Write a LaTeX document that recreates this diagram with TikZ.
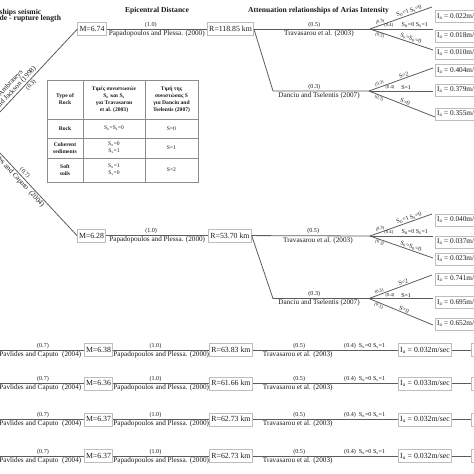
\documentclass[tikz,border=0pt]{standalone}
\usepackage{fontspec}
\setmainfont{Liberation Serif}
\definecolor{lnc}{HTML}{5C5C5C}
\definecolor{bxc}{HTML}{BDBDBD}
\definecolor{txc}{HTML}{1A1A1A}
\definecolor{tbc}{HTML}{8C8C8C}
\newcommand{\myfs}[1]{\fontsize{#1}{#1}\selectfont}
\begin{document}
\begin{tikzpicture}[x=1pt,y=-1pt,
  conn/.style={draw=lnc, line width=0.8pt},
  valbox/.style={draw=bxc, line width=0.6pt, fill=white, text=txc, font=\myfs{7.8}, inner xsep=1.8pt, inner ysep=1.5pt, minimum height=13pt},
  iabox/.style={valbox, anchor=west, font=\myfs{7.3}, minimum height=12pt},
  hdr/.style={font=\bfseries\myfs{7.6}, text=txc, inner sep=0pt},
  wlab/.style={font=\myfs{6.1}, text=txc, inner sep=1.2pt},
  mlab/.style={font=\myfs{7.2}, text=txc, inner sep=1pt},
  blab/.style={font=\myfs{4.6}, text=txc, inner sep=0.8pt},
  slab/.style={font=\myfs{6}, text=txc, inner sep=0.8pt},
  tbl/.style={draw=tbc, line width=0.6pt},
  tcell/.style={font=\fontsize{5.6}{6.9}\selectfont, text=txc, align=center, inner sep=0pt},
  thead/.style={tcell, font=\bfseries\fontsize{5.6}{6.9}\selectfont}
]
\useasboundingbox (0,0) rectangle (474,474);
\clip (0,0) rectangle (474,474);

% headers
\node[hdr, anchor=base west] (h1) at (-0.5,14) {ships seismic};
\node[hdr, anchor=base west] (h2) at (-0.5,20.5) {de - rupture length};
\node[hdr, anchor=base] (h3) at (157,12) {Epicentral Distance};
\node[hdr, anchor=base] (h4) at (318.5,12) {Attenuation relationships of Arias Intensity};

% table
\draw[tbl] (47,80) rectangle (198,182);
\draw[tbl] (83,80) -- (83,182);
\draw[tbl] (145,80) -- (145,182);
\draw[tbl] (47,119) -- (198,119);
\draw[tbl] (47,138) -- (198,138);
\draw[tbl] (47,158) -- (198,158);
\node[thead] (c11) at (65,99.5) {Type of\\Rock};
\node[thead] (c12) at (114,99.5) {Τιμές συνιστωσών\\S\textsubscript{o} και S\textsubscript{s}\\για Travasarou\\et al. (2003)};
\node[thead] (c13) at (171.5,99.5) {Τιμή της\\συνιστώσας S\\για Danciu and\\Tselentis (2007)};
\node[thead] (c21) at (65,128.5) {Rock};
\node[tcell] (c22) at (114,128.5) {S\textsubscript{o}=S\textsubscript{s}=0};
\node[tcell] (c23) at (171.5,128.5) {S=0};
\node[thead] (c31) at (65,148) {Coherent\\sediments};
\node[tcell] (c32) at (114,148) {S\textsubscript{o}=0\\S\textsubscript{s}=1};
\node[tcell] (c33) at (171.5,148) {S=1};
\node[thead] (c41) at (65,170) {Soft\\soils};
\node[tcell] (c42) at (114,170) {S\textsubscript{o}=1\\S\textsubscript{s}=0};
\node[tcell] (c43) at (171.5,170) {S=2};

% ---------- upper tree ----------
\coordinate (ua) at (0,112);
\node[valbox] (m1) at (92,29) {M=6.74};
\node[valbox] (r1) at (230.5,29) {R=118.85 km};
\coordinate (t1) at (370,29);
\coordinate (dk1) at (273,91);
\coordinate (d1) at (369,91);
\draw[conn] (ua) -- (m1.west)
  node[pos=0.25, above, sloped, mlab, align=center] {Ambraseys\\and Jackson (1998)}
  node[pos=0.36, below, sloped, wlab] {(0.3)};
\draw[conn] (m1) -- (r1)
  node[pos=0.44, above, wlab] {(1.0)}
  node[pos=0.5, below, mlab] {Papadopoulos and Plessa. (2000)};
\draw[conn] (r1) -- (t1)
  node[pos=0.52, above, wlab] {(0.5)}
  node[pos=0.56, below, mlab] {Travasarou et al. (2003)};
\draw[conn] (r1.east) -- (dk1) -- (d1)
  node[pos=0.43, above, wlab] {(0.3)}
  node[pos=0.48, below, mlab] {Danciu and Tselentis (2007)};

\coordinate (t1a) at (432,7);
\coordinate (t1b) at (433,29);
\coordinate (t1c) at (433,50);
\draw[conn] (t1) -- (t1a)
  node[pos=0.18, above, sloped, blab] {(0.3)}
  node[pos=0.65, above, sloped, slab] {S\textsubscript{o}=1 S\textsubscript{s}=0};
\draw[conn] (t1) -- (t1b)
  node[pos=0.30, above, blab] {(0.4)}
  node[pos=0.71, above, slab] {S\textsubscript{o}=0 S\textsubscript{s}=1};
\draw[conn] (t1) -- (t1c)
  node[pos=0.17, below, sloped, blab] {(0.3)}
  node[pos=0.63, above, sloped, slab] {S\textsubscript{s}=S\textsubscript{o}=0};

\coordinate (d1a) at (433,68);
\coordinate (d1b) at (433,91);
\coordinate (d1c) at (435,117);
\draw[conn] (d1) -- (d1a)
  node[pos=0.18, above, sloped, blab] {(0.3)}
  node[pos=0.56, above, sloped, slab] {S=2};
\draw[conn] (d1) -- (d1b)
  node[pos=0.33, above, blab] {(0.4)}
  node[pos=0.58, above, slab] {S=1};
\draw[conn] (d1) -- (d1c)
  node[pos=0.17, below, sloped, blab] {(0.3)}
  node[pos=0.53, above, sloped, slab] {S=0};

\node[iabox] (ia1) at (435,16.3) {I\textsubscript{a} = 0.022m/sec};
\node[iabox] (ia2) at (435,36) {I\textsubscript{a} = 0.018m/sec};
\node[iabox] (ia3) at (435,53) {I\textsubscript{a} = 0.010m/sec};
\node[iabox] (ia4) at (435,70.5) {I\textsubscript{a} = 0.404m/sec};
\node[iabox] (ia5) at (435,90) {I\textsubscript{a} = 0.379m/sec};
\node[iabox] (ia6) at (435,114) {I\textsubscript{a} = 0.355m/sec};

% ---------- middle tree ----------
\coordinate (la) at (0,153);
\node[valbox] (m2) at (91.5,235.5) {M=6.28};
\node[valbox] (r2) at (230,235.5) {R=53.70 km};
\coordinate (t2) at (370,236);
\coordinate (dk2) at (273,298.5);
\coordinate (d2) at (369,298.5);
\draw[conn] (la) -- (m2.west)
  node[pos=0.28, above, sloped, wlab] {(0.7)}
  node[pos=0.24, below, sloped, mlab] {Pavlides and Caputo\ \ (2004)};
\draw[conn] (m2) -- (r2)
  node[pos=0.44, above, wlab] {(1.0)}
  node[pos=0.5, below, mlab] {Papadopoulos and Plessa. (2000)};
\draw[conn] (r2) -- (t2)
  node[pos=0.52, above, wlab] {(0.5)}
  node[pos=0.56, below, mlab] {Travasarou et al. (2003)};
\draw[conn] (r2.east) -- (dk2) -- (d2)
  node[pos=0.43, above, wlab] {(0.3)}
  node[pos=0.48, below, mlab] {Danciu and Tselentis (2007)};

\coordinate (t2a) at (432,214);
\coordinate (t2b) at (433,236);
\coordinate (t2c) at (433,258);
\draw[conn] (t2) -- (t2a)
  node[pos=0.18, above, sloped, blab] {(0.3)}
  node[pos=0.65, above, sloped, slab] {S\textsubscript{o}=1 S\textsubscript{s}=0};
\draw[conn] (t2) -- (t2b)
  node[pos=0.30, above, blab] {(0.4)}
  node[pos=0.71, above, slab] {S\textsubscript{o}=0 S\textsubscript{s}=1};
\draw[conn] (t2) -- (t2c)
  node[pos=0.17, below, sloped, blab] {(0.3)}
  node[pos=0.63, above, sloped, slab] {S\textsubscript{s}=S\textsubscript{o}=0};

\coordinate (d2a) at (432,275);
\coordinate (d2b) at (433,298.5);
\coordinate (d2c) at (433,325);
\draw[conn] (d2) -- (d2a)
  node[pos=0.18, above, sloped, blab] {(0.3)}
  node[pos=0.56, above, sloped, slab] {S=2};
\draw[conn] (d2) -- (d2b)
  node[pos=0.33, above, blab] {(0.4)}
  node[pos=0.58, above, slab] {S=1};
\draw[conn] (d2) -- (d2c)
  node[pos=0.17, below, sloped, blab] {(0.3)}
  node[pos=0.53, above, sloped, slab] {S=0};

\node[iabox] (ia7) at (435,220) {I\textsubscript{a} = 0.040m/sec};
\node[iabox] (ia8) at (435,242) {I\textsubscript{a} = 0.037m/sec};
\node[iabox] (ia9) at (435,259) {I\textsubscript{a} = 0.023m/sec};
\node[iabox] (ia10) at (435,279) {I\textsubscript{a} = 0.741m/sec};
\node[iabox] (ia11) at (435,302.5) {I\textsubscript{a} = 0.695m/sec};
\node[iabox] (ia12) at (435,324) {I\textsubscript{a} = 0.652m/sec};

% ---------- bottom rows ----------
\foreach \i/\yy/\mm/\rr/\ia in {1/350/6.38/63.83/0.032, 2/383.3/6.36/61.66/0.033, 3/419.3/6.37/62.73/0.032, 4/456/6.37/62.73/0.032} {
  \coordinate (L\i) at (-5,\yy);
  \node[valbox] (M\i) at (98.5,\yy) {M=\mm};
  \node[valbox] (R\i) at (231,\yy) {R=\rr\ km};
  \node[valbox] (I\i) at (425,\yy) {I\textsubscript{a} = \ia m/sec};
  \node[valbox, anchor=west, minimum width=30pt] (E\i) at (470.5,\yy) {};
  \draw[conn] (L\i) -- (M\i)
    node[pos=0.54, above, wlab] {(0.7)}
    node[pos=0.51, below, mlab] {Pavlides and Caputo\ \ (2004)};
  \draw[conn] (M\i) -- (R\i)
    node[pos=0.44, above, wlab] {(1.0)}
    node[pos=0.5, below, mlab] {Papadopoulos and Plessa. (2000)};
  \draw[conn] (R\i) -- (I\i)
    node[pos=0.32, above, wlab] {(0.5)}
    node[pos=0.31, below, mlab] {Travasarou et al. (2003)}
    node[pos=0.77, above, wlab] {(0.4)\ \ S\textsubscript{o}=0 S\textsubscript{s}=1};
  \draw[conn] (I\i) -- (E\i);
}
\end{tikzpicture}
\end{document}
